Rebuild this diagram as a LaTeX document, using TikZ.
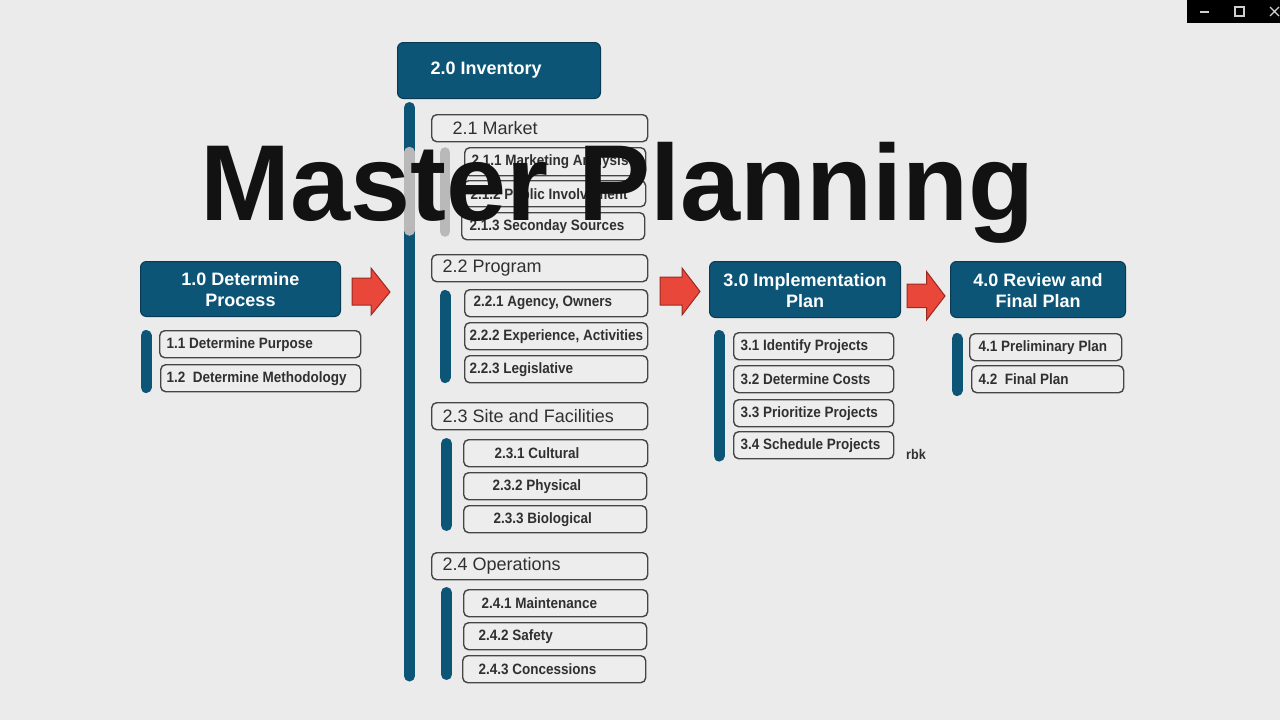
\documentclass[tikz,border=0pt]{standalone}
\usepackage{fontspec}
\setmainfont{Liberation Sans}
\newfontfamily\subf[FakeStretch=0.9]{Liberation Sans}
\definecolor{bgc}{HTML}{EBEBEB}
\definecolor{boxfill}{HTML}{EDEDED}
\definecolor{boxline}{HTML}{454545}
\definecolor{txt}{HTML}{303030}
\definecolor{wbsblue}{HTML}{0D5577}
\definecolor{bluedark}{HTML}{083B53}
\definecolor{arrred}{HTML}{E8473A}
\definecolor{arrline}{HTML}{9A2A20}
\definecolor{fadebar}{HTML}{B9B9B9}
\definecolor{titlec}{HTML}{121212}
\definecolor{iconc}{HTML}{CFCFCF}
% left-aligned box: style, name, x1, y1, x2, y2, pad, text
\newcommand\wbox[8]{%
  \pgfmathsetmacro\bw{#5-#3}%
  \pgfmathsetmacro\bh{#6-#4}%
  \node[#1, anchor=north west, minimum width=\bw pt, minimum height=\bh pt,
        inner sep=0pt] (#2) at (#3,#4) {};
  \node[#1, draw=none, fill=none, minimum width=0pt, minimum height=0pt,
        inner sep=0pt, anchor=west] (#2t) at ([xshift=#7pt]#2.west) {#8};}
% centered box: style, name, x1, y1, x2, y2, text
\newcommand\cbox[7]{%
  \pgfmathsetmacro\bw{#5-#3}%
  \pgfmathsetmacro\bh{#6-#4}%
  \node[#1, anchor=north west, minimum width=\bw pt, minimum height=\bh pt,
        inner sep=0pt] (#2) at (#3,#4) {};
  \node[#1, draw=none, fill=none, minimum width=0pt, minimum height=0pt,
        inner sep=0pt, align=center] (#2t) at ([yshift=-1pt]#2.center) {#7};}
\begin{document}
\begin{tikzpicture}[x=1pt,y=-1pt,
  hdr/.style={draw=boxline, line width=1.4pt, rounded corners=5pt, fill=boxfill,
              text=txt, font=\fontsize{18}{21}\selectfont},
  subbox/.style={draw=boxline, line width=1.4pt, rounded corners=5pt, fill=boxfill,
              text=txt, font=\subf\bfseries\fontsize{15}{17}\selectfont},
  mainbox/.style={draw=bluedark, line width=1pt, fill=wbsblue, rounded corners=6pt,
              text=white, font=\bfseries\fontsize{18}{21}\selectfont},
  bar/.style={draw=wbsblue, line width=11pt, line cap=round},
  fbar/.style={draw=fadebar, line width=10.5pt, line cap=round},
  bigarrow/.style={fill=arrred, draw=arrline, line width=1pt, line join=miter},
  icon/.style={draw=iconc, line width=1.2pt}
]
\useasboundingbox (0,0) rectangle (1280,720);
\fill[bgc] (0,0) rectangle (1280,720);

% window controls
\fill[black] (1187,0) rectangle (1280,23);
\draw[icon] (1200,12) -- (1209,12);
\draw[icon] (1235,7) rectangle (1244,16);
\draw[icon] (1270,7) -- (1279,16) (1279,7) -- (1270,16);

% bars
\draw[bar] (409.5,107.5) -- (409.5,676);
\draw[bar] (146,335.5) -- (146,387.5);
\draw[bar] (445,295.5) -- (445,377.5);
\draw[bar] (446.5,443.5) -- (446.5,525.5);
\draw[bar] (446.5,592.5) -- (446.5,674.5);
\draw[bar] (719,335.5) -- (719,456);
\draw[bar] (957,338.5) -- (957,390.5);
\draw[fbar] (409.5,152) -- (409.5,230.5);
\draw[fbar] (445,152.5) -- (445,231.5);

% main boxes
\wbox{mainbox}{inv}{397}{42}{600}{98}{33}{2.0 Inventory}
\cbox{mainbox}{det}{140}{261}{340}{316}{1.0 Determine\\Process}
\cbox{mainbox}{impl}{709}{261}{900}{317}{3.0 Implementation\\Plan}
\cbox{mainbox}{rev}{950}{261}{1125}{317}{4.0 Review and\\Final Plan}

% 1.x
\wbox{subbox}{s11}{159}{330}{360}{357}{7}{1.1 Determine Purpose}
\wbox{subbox}{s12}{160}{364}{360}{391}{6}{1.2\ \ Determine Methodology}

% 2.x headers
\wbox{hdr}{mkt}{431}{114}{647}{141}{21}{2.1 Market}
\wbox{hdr}{prg}{431}{254}{647}{281}{11}{2.2 Program}
\wbox{hdr}{site}{431}{402}{647}{429}{11}{2.3 Site and Facilities}
\wbox{hdr}{ops}{431}{552}{647}{579}{11}{2.4 Operations}

% 2.1.x
\wbox{subbox}{s211}{464}{147}{645}{175}{7}{2.1.1 Marketing Analysis}
\wbox{subbox}{s212}{463}{180}{645}{206}{7}{2.1.2 Public Involvement}
\wbox{subbox}{s213}{461}{212}{644}{239}{8}{2.1.3 Seconday Sources}
% 2.2.x
\wbox{subbox}{s221}{464}{289}{647}{316}{9}{2.2.1 Agency, Owners}
\wbox{subbox}{s222}{464}{322}{647}{349}{5}{2.2.2 Experience, Activities}
\wbox{subbox}{s223}{464}{355}{647}{382}{5}{2.2.3 Legislative}
% 2.3.x
\wbox{subbox}{s231}{463}{439}{647}{466}{31}{2.3.1 Cultural}
\wbox{subbox}{s232}{463}{472}{646}{499}{29}{2.3.2 Physical}
\wbox{subbox}{s233}{463}{505}{646}{532}{30}{2.3.3 Biological}
% 2.4.x
\wbox{subbox}{s241}{463}{589}{647}{616}{18}{2.4.1 Maintenance}
\wbox{subbox}{s242}{463}{622}{646}{649}{15}{2.4.2 Safety}
\wbox{subbox}{s243}{462}{655}{645}{682}{16}{2.4.3 Concessions}

% 3.x
\wbox{subbox}{s31}{733}{332}{893}{359}{7}{3.1 Identify Projects}
\wbox{subbox}{s32}{733}{365}{893}{392}{7}{3.2 Determine Costs}
\wbox{subbox}{s33}{733}{399}{893}{426}{7}{3.3 Prioritize Projects}
\wbox{subbox}{s34}{733}{431}{893}{458}{7}{3.4 Schedule Projects}
\node[anchor=base west, inner sep=0pt, text=txt, font=\subf\bfseries\fontsize{14}{16}\selectfont] (rbk) at (906,459) {rbk};

% 4.x
\wbox{subbox}{s41}{969}{333}{1121}{360}{9}{4.1 Preliminary Plan}
\wbox{subbox}{s42}{971}{365}{1123}{392}{7}{4.2\ \ Final Plan}

% arrows
\draw[bigarrow] (352,278) -- (371,278) -- (371,268) -- (390,292) -- (371,315) -- (371,305) -- (352,305) -- cycle;
\draw[bigarrow] (660,277) -- (682,277) -- (682,268) -- (700,291.5) -- (682,315) -- (682,305) -- (660,305) -- cycle;
\draw[bigarrow] (907,284) -- (926.5,284) -- (926.5,271.5) -- (945,296) -- (926.5,320) -- (926.5,307.5) -- (907,307.5) -- cycle;

% title
\node[anchor=base west, inner sep=0pt, text=titlec, font=\bfseries\fontsize{108}{108}\selectfont] (title) at (200,220) {Master Planning};
\end{tikzpicture}
\end{document}
